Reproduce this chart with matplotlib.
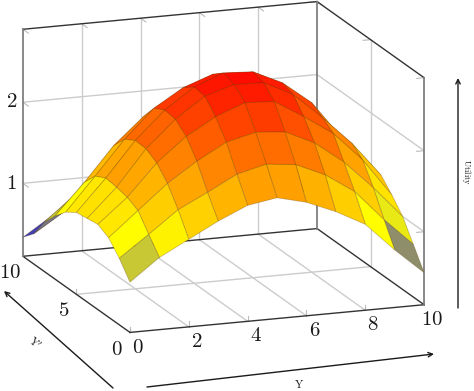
import numpy as np
import matplotlib
matplotlib.use("Agg")
import matplotlib.pyplot as plt
from matplotlib.colors import LinearSegmentedColormap
from matplotlib.patches import FancyArrowPatch
from mpl_toolkits.mplot3d import proj3d

plt.rcParams['mathtext.fontset'] = 'cm'
plt.rcParams['font.family'] = ['DejaVu Serif']

x_values = np.arange(0, 11)
y_values = np.arange(0, 11)
# utility; one row per y value, x running 0..10
utility = np.array([
    [0.72, 0.99, 1.18, 1.37, 1.53, 1.59, 1.50, 1.35, 1.16, 0.81, 0.495],
    [0.92, 1.18, 1.45, 1.63, 1.82, 1.91, 1.87, 1.71, 1.47, 1.09, 0.75],
    [1.08, 1.38, 1.68, 1.92, 2.12, 2.21, 2.18, 2.01, 1.74, 1.39, 1.00],
    [1.15, 1.45, 1.84, 2.13, 2.34, 2.48, 2.46, 2.24, 2.00, 1.64, 1.17],
    [1.13, 1.48, 1.92, 2.25, 2.50, 2.61, 2.60, 2.42, 2.10, 1.75, 1.32],
    [1.11, 1.50, 1.93, 2.27, 2.52, 2.66, 2.64, 2.47, 2.19, 1.73, 1.33],
    [1.02, 1.43, 1.85, 2.20, 2.42, 2.55, 2.50, 2.33, 2.05, 1.68, 1.30],
    [0.88, 1.26, 1.68, 2.00, 2.22, 2.32, 2.28, 2.10, 1.85, 1.55, 1.20],
    [0.71, 1.00, 1.38, 1.72, 1.92, 2.00, 1.97, 1.82, 1.60, 1.30, 1.00],
    [0.47, 0.70, 0.95, 1.30, 1.50, 1.58, 1.55, 1.42, 1.25, 1.00, 0.75],
    [0.335, 0.57, 0.75, 0.93, 1.05, 1.10, 1.08, 0.98, 0.85, 0.68, 0.48],
])
x_ticks = [0, 2, 4, 6, 8, 10]
y_ticks = [0, 5, 10]
z_ticks = [1, 2]
x_label = 'Y'
y_label = "Y'"
z_label = 'Utility'

W, H = 474, 391
XMIN, XMAX, YMIN, YMAX, ZMIN, ZMAX = 0, 10, 0, 10, 0.1, 2.9

fig = plt.figure(figsize=(W / 100, H / 100), dpi=100, facecolor='white')
ax = fig.add_axes([-19.9 / W, -19.4 / H, 1, W / H], projection='3d',
                  computed_zorder=False, proj_type='ortho')
ax.view_init(elev=15, azim=-110)
ax.set_box_aspect((313, 313, 235), zoom=1.0264)
ax.set_axis_off()
ax.patch.set_alpha(0)

cmap = LinearSegmentedColormap.from_list(
    'utility', [(0, '#4141b4'), (0.271, '#ffff00'), (1, '#ff0a00')])
X, Y = np.meshgrid(x_values, y_values)
ax.plot_surface(X, Y, utility, cmap=cmap, vmin=0.55, vmax=2.65, shade=False,
                rstride=1, cstride=1, edgecolor=(0.35, 0.22, 0, 0.3),
                linewidth=0.6, antialiased=True, zorder=5)

GRID = dict(color='#cccccc', lw=1.0, zorder=1)
TICK = dict(color='#bbbbbb', lw=0.8, zorder=1)
DARK = dict(color='#333333', lw=1.0, zorder=2)
CORNER = dict(color='#808080', lw=1.3, zorder=2)

# grid on floor, back wall, right wall
for gx in x_ticks[1:-1]:
    ax.plot([gx, gx], [YMIN, YMAX], [ZMIN, ZMIN], **GRID)
    ax.plot([gx, gx], [YMAX, YMAX], [ZMIN, ZMAX], **GRID)
for gy in y_ticks[1:-1]:
    ax.plot([XMIN, XMAX], [gy, gy], [ZMIN, ZMIN], **GRID)
    ax.plot([XMAX, XMAX], [gy, gy], [ZMIN, ZMAX], **GRID)
for gz in z_ticks:
    ax.plot([XMIN, XMAX], [YMAX, YMAX], [gz, gz], **GRID)
    ax.plot([XMAX, XMAX], [YMIN, YMAX], [gz, gz], **GRID)

# tick marks
for tx in x_ticks:
    ax.plot([tx, tx], [YMIN, YMIN], [ZMIN, ZMIN + 0.07], **TICK)
    ax.plot([tx, tx], [YMAX, YMAX - 0.5], [ZMAX, ZMAX], **TICK)
for ty in y_ticks:
    ax.plot([XMIN, XMIN], [ty, ty], [ZMIN, ZMIN + 0.07], **TICK)
    ax.plot([XMAX, XMAX - 0.25], [ty, ty], [ZMAX, ZMAX], **TICK)
for tz in z_ticks:
    ax.plot([XMIN, XMIN], [YMAX, YMAX - 0.5], [tz, tz], **TICK)
    ax.plot([XMAX, XMAX - 0.25], [YMIN, YMIN], [tz, tz], **TICK)

# frame
ax.plot([XMIN, XMAX], [YMIN, YMIN], [ZMIN, ZMIN], **DARK)
ax.plot([XMIN, XMIN], [YMIN, YMAX], [ZMIN, ZMIN], **DARK)
ax.plot([XMIN, XMAX], [YMAX, YMAX], [ZMIN, ZMIN], **DARK)
ax.plot([XMAX, XMAX], [YMIN, YMAX], [ZMIN, ZMIN], **DARK)
ax.plot([XMIN, XMAX], [YMAX, YMAX], [ZMAX, ZMAX], **DARK)
ax.plot([XMAX, XMAX], [YMIN, YMAX], [ZMAX, ZMAX], **DARK)
ax.plot([XMIN, XMIN], [YMAX, YMAX], [ZMIN, ZMAX], **CORNER)
ax.plot([XMAX, XMAX], [YMAX, YMAX], [ZMIN, ZMAX], **CORNER)
ax.plot([XMAX, XMAX], [YMIN, YMIN], [ZMIN, ZMAX], **CORNER)

ax.set_xlim(XMIN, XMAX, view_margin=0)
ax.set_ylim(YMIN, YMAX, view_margin=0)
ax.set_zlim(ZMIN, ZMAX, view_margin=0)

LABEL = dict(fontsize=15, color='#1a1a1a', zorder=6)


def tick_label(x, y, z, s, **kw):
    # place a label at a 3D data point, as plain 2D text
    xp, yp, _ = proj3d.proj_transform(x, y, z, ax.get_proj())
    ax.text2D(xp, yp, s, transform=ax.transData, clip_on=False, **LABEL, **kw)


for tx in x_ticks:
    tick_label(tx + 0.27, YMIN, ZMIN - 0.19, rf'${tx}$', ha='center', va='center')
for ty in y_ticks:
    tick_label(XMIN - 0.45, ty, ZMIN - 0.19, rf'${ty}$', ha='center', va='center')
for tz in z_ticks:
    tick_label(XMIN - 0.2, YMAX, tz + 0.01, rf'${tz}$', ha='right', va='center')


def px(x, y):
    return (x / W, 1 - y / H)


# axis arrows and axis names
for a, b in [((147, 387), (434, 354)), ((113, 388), (4, 291)), ((458, 308), (458, 78))]:
    fig.add_artist(FancyArrowPatch(px(*a), px(*b), transform=fig.transFigure,
                                   arrowstyle='->', mutation_scale=8,
                                   lw=1.0, color='#1a1a1a', shrinkA=0, shrinkB=0))
fig.text(*px(299, 384), rf'$\mathrm{{{x_label}}}$', fontsize=8, ha='center', va='center',
         color='#1a1a1a')
fig.text(*px(34, 343), rf'$\mathrm{{{y_label}}}$', fontsize=8, ha='center', va='center',
         rotation=-42, color='#1a1a1a')
fig.text(*px(466, 172), rf'$\mathrm{{{z_label}}}$', fontsize=6, ha='center', va='center',
         rotation=-90, color='#1a1a1a')

fig.savefig('out.png', dpi=100)
